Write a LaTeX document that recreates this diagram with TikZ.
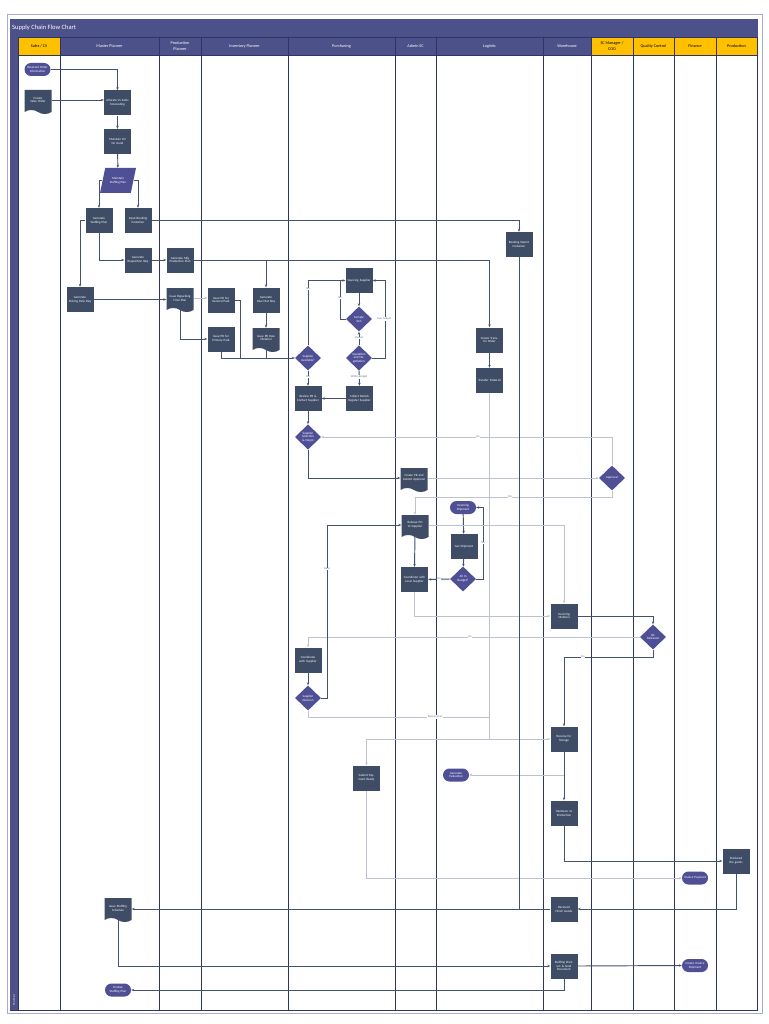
\documentclass[tikz,border=0pt]{standalone}
\usepackage{fontspec}
\setmainfont{Carlito}
\usetikzlibrary{shapes.geometric,shapes.misc,shapes.symbols,arrows.meta}
\definecolor{titlec}{HTML}{4D5189}
\definecolor{boxc}{HTML}{3E4C66}
\definecolor{purp}{HTML}{4E4F94}
\definecolor{yel}{HTML}{FFC000}
\definecolor{lanec}{HTML}{2F3562}
\definecolor{connc}{HTML}{44526B}
\definecolor{lightc}{HTML}{BCC3CE}
\definecolor{framec}{HTML}{A9ABD0}
\definecolor{lblc}{HTML}{6A7283}
\begin{document}
\begin{tikzpicture}[x=1pt,y=-1pt,
  txt/.style={text=white, font=\fontsize{3.2}{3.8}\selectfont, align=center},
  box/.style={txt, rectangle, fill=boxc, minimum width=27pt, minimum height=25pt, inner sep=0.5pt, text width=24pt},
  doc/.style={txt, tape, tape bend top=none, tape bend bottom=out and in, tape bend height=4pt, fill=boxc, minimum width=27pt, minimum height=24pt, inner sep=0.5pt, text width=24pt},
  term/.style={txt, rounded rectangle, fill=purp, minimum width=27pt, minimum height=13pt, inner sep=0.5pt, text width=22pt},
  dia/.style={txt, diamond, aspect=1, fill=purp, minimum width=26pt, minimum height=25pt, inner sep=0pt, text width=15pt},
  para/.style={txt, trapezium, trapezium left angle=65, trapezium right angle=115, trapezium stretches=true, fill=purp, minimum width=36pt, minimum height=25pt, inner sep=0.5pt},
  conn/.style={draw=connc, line width=0.95pt, -{Stealth[length=3pt,width=2.4pt]}},
  connl/.style={draw=lightc, line width=0.95pt, -{Stealth[length=3pt,width=2.4pt]}},
  plain/.style={draw=connc, line width=0.95pt},
  plainl/.style={draw=lightc, line width=0.95pt},
  lbl/.style={fill=white, inner sep=0.4pt, text=lblc, font=\fontsize{2.8}{3}\selectfont},
  hdr/.style={rectangle, inner sep=0pt, minimum height=18pt, align=center, font=\fontsize{4.2}{5.4}\selectfont},
  lane/.style={draw=lanec, line width=0.9pt}
]
\useasboundingbox (0,0) rectangle (768,1024);
\fill[white] (0,0) rectangle (768,1024);
% frame
\draw[framec, line width=1pt] (7,15) rectangle (762,1013);
\fill[titlec] (10,19) rectangle (758,37);
\node[anchor=west, text=white, font=\fontsize{6.5}{7}\selectfont, inner sep=0pt] (title) at (12,28) {Supply Chain Flow Chart};
\fill[titlec] (10,37) rectangle (18,1010);
\node[rotate=90, anchor=west, text=white, font=\fontsize{2.5}{3}\selectfont, inner sep=0pt] (striptxt) at (14,1006) {Flow Chart};
% header cells
\foreach \a/\b/\t/\c/\tc [count=\i] in {
  18/60/{Sales / CS}/yel/black,
  60/159/{Master Planner}/titlec/white,
  159/201/{Production\\Planner}/titlec/white,
  201/288/{Inventory Planner}/titlec/white,
  288/395/{Purchasing}/titlec/white,
  395/436/{Admin SC}/titlec/white,
  436/543/{Logistic}/titlec/white,
  543/591/{Warehouse}/titlec/white,
  591/633/{SC Manager /\\COO}/yel/black,
  633/674/{Quality Control}/yel/black,
  674/716/{Finance}/yel/black,
  716/757/{Production}/yel/black}{
  \node[hdr, fill=\c, text=\tc, minimum width=\b pt-\a pt] (h\i) at ({(\a+\b)/2},46) {\t};
}
\foreach \x in {18,60,159,201,288,395,436,543,591,633,674,716,757}
  \draw[lane] (\x,37) -- (\x,1010);
\draw[lane] (18,37) -- (757,37);
\draw[lane] (18,55) -- (757,55);
\draw[lane] (10,1010) -- (758,1010);

% ---------- nodes ----------
\node[term] (t1) at (37.5,69.5) {Received Order Information};
\node[doc] (d1) at (38,100) {Create Sales Order};
\node[box] (alloc) at (117.5,103) {Allocate Vs Sales Forecasting};
\node[box] (maint) at (117.5,141.5) {Maintain SO On Hand};
\node[para] (plan) at (118,180.5) {Maintain\\Stuffing Plan};
\node[box] (gsp) at (99,220.5) {Generate Stuffing Plan};
\node[box] (ibc) at (138,220.5) {Input Booking Container};
\node[box] (grr) at (138,260) {Generate Requisition Req};
\node[box] (gmp) at (180,260) {Generate Mfg Production Plan};
\node[box] (gpp) at (80,299.5) {Generate Picking Pack Req};
\node[doc] (irp) at (180,298) {Issue Repacking Final Plan};
\node[box] (gen) at (221,300) {Issue PR for General Pack};
\node[box] (prim) at (221,339) {Issue PR for Primary Pack};
\node[box] (raw) at (266,300) {Generate Raw Mat Req};
\node[doc] (prraw) at (266,338) {Issue PR Raw Material};
\node[box] (src) at (359,280.5) {Sourcing Supplier};
\node[dia] (st) at (359,319) {Sample Test};
\node[dia] (quo) at (359,358) {Quotation and Negotiation};
\node[dia] (sa) at (308,358) {Supplier Available?};
\node[box] (rev) at (308,398.5) {Review PR \& Contact Supplier};
\node[box] (col) at (359.5,398.5) {Collect Details Register Supplier};
\node[dia] (sel) at (308,437) {Supplier Selection \& Negot};
\node[doc] (cpr) at (414,478) {Create PR and Submit Approval};
\node[dia] (app) at (612,478) {Approval};
\node[box] (bec) at (519,244.5) {Booking Export Container};
\node[box] (cto) at (489.5,340) {Create Transfer Order};
\node[box] (tm) at (489.5,380.5) {Transfer Material};
\node[term] (is) at (463,507.5) {Incoming Shipment};
\node[doc] (rpo) at (415,525) {Release PO to Supplier};
\node[box] (gs) at (464,546.5) {Get Shipment};
\node[dia] (ab) at (463,579) {All In Budget?};
\node[box] (cls) at (414.5,579.5) {Coordinate with Local Supplier};
\node[box] (im) at (564,616) {Incoming Material};
\node[dia] (qc) at (653,637) {QC Released};
\node[box] (cws) at (308,660) {Coordinate with Supplier};
\node[dia] (sd) at (308,698) {Supplier Decision};
\node[box] (rs) at (564,739) {Receive for Storage};
\node[box] (spr) at (366.5,778) {Submit Payment Ready};
\node[term] (ge) at (456,775) {Generate Evaluation};
\node[box] (hp) at (564,813) {Handover to Production};
\node[box] (pg) at (736,861) {Produced the goods};
\node[term] (ip) at (695,878) {Invoice Payment};
\node[doc] (iss) at (118,908) {Issue Stuffing Schedule};
\node[box] (rfg) at (564,909) {Received Finish Goods};
\node[box] (spd) at (564,966) {Stuffing Product \& Send Document};
\node[term] (cis) at (695,965.5) {Create Invoice Shipment};
\node[term] (fsp) at (118,990) {Finalize Stuffing Plan};

\coordinate (jg) at (240,358);
\coordinate (jst) at (340,280.5);
\coordinate (jpc) at (489.5,717);

% ---------- connectors ----------
\draw[conn] (t1.east) -| (alloc.north);
\draw[conn] (d1.east) -- (d1.east -| alloc.west);
\draw[conn] (alloc) -- (maint);
\draw[conn] (maint) -- (plan);
\draw[conn] (plan.west) -| (gsp.north);
\draw[conn] (plan.east) -| (ibc.north);
\draw[conn] (gsp.south) |- (grr.west);
\draw[conn] (grr) -- (gmp);
\draw[conn] (gsp.west) -| (gpp.north);
\draw[conn] (ibc.east) -| (bec.north);
\draw[conn] (gmp.east) -| (cto.north);
\draw[conn] (raw.north |- gmp.east) -- (raw.north);
\draw[conn] (gpp.east) -- (gpp.east -| irp.west);
\draw[connl] (irp.east) -- (irp.east -| gen.west);
\draw[conn] (irp.south) |- (prim.west);
\draw[plain] (gen.east) -| (jg);
\draw[conn] (prim.south) |- (sa.west);
\draw[plain] (prraw.south) -- (prraw.south |- sa.west);
\draw[conn] (raw) -- (prraw);
\draw[conn] (sa.north) |- (src.west);
\draw[conn] (src) -- (st);
\draw[plain] (st.west) -| (jst);
\draw[conn] (quo.north) -- (st.south);
\draw[conn] (quo.east) -- ++(13,0) |- (src.east);
\draw[conn] (quo.south) -- (col.north);
\draw[conn] (col.west) -- (rev.east);
\draw[conn] (sa.south) -- (rev.north);
\draw[conn] (rev) -- (sel);
\draw[conn] (sel.south) |- (cpr.west);
\draw[connl] (cpr.east) -- (app.west);
\draw[connl] (app.north) |- (sel.east);
\draw[connl] (app.south) -- ++(0,7) -| (rpo.north);
\draw[conn] (is) -- (gs);
\draw[conn] (gs) -- (ab);
\draw[conn] (ab.east) -- ++(7,0) |- (is.east);
\draw[conn] (ab.west) -- (cls.east);
\draw[conn] (rpo.south) -- (cls.north);
\draw[connl] (rpo.east) -| (im.north);
\draw[connl] (cls.south) |- (im.west);
\draw[conn] (im.east) -| (qc.north);
\draw[connl] (qc.west) -| (cws.north);
\draw[conn] (qc.south) -- ++(0,8) -| (rs.north);
\draw[conn] (cws) -- (sd);
\draw[conn] (sd.east) -- ++(6,0) |- (rpo.west);
\draw[plainl] (sd.south) |- (jpc);
\draw[connl] (tm.south) |- (rs.west);
\draw[connl] (tm.south |- rs.west) -| (spr.north);
\draw[conn] (rs) -- (hp);
\draw[connl] (rs.south |- ge.east) -- (ge.east);
\draw[conn] (hp.south) |- (pg.west);
\draw[connl] (spr.south) |- (ip.west);
\draw[conn] (pg.south) |- (rfg.east);
\draw[conn] (rfg.west) -- (rfg.west -| iss.east);
\draw[plain] (bec.south) -- (bec.south |- rfg.west);
\draw[conn] (iss.south) |- (spd.west);
\draw[conn] (spd.east) -- (cis.west);
\draw[conn] (spd.south) |- (fsp.east);
\draw[conn] (cto) -- (tm);

% ---------- labels ----------
\node[lbl] (l1) at (308,289) {No};
\node[lbl] (l2) at (340,298) {No};
\node[lbl] (l3) at (359,338) {Passed};
\node[lbl] (l4) at (384,319) {Over budget};
\node[lbl] (l5) at (359,377) {Within Budget};
\node[lbl] (l6) at (308,377) {Yes};
\node[lbl] (l7) at (478,437) {No};
\node[lbl] (l8) at (510,497) {Yes};
\node[lbl] (l9) at (483,543) {No};
\node[lbl] (l10) at (439,579) {Yes};
\node[lbl] (l11) at (470,637) {No};
\node[lbl] (l12) at (583,657) {Yes};
\node[lbl] (l13) at (327,569) {Solve};
\node[lbl] (l14) at (435,717) {Payment Cut};
\end{tikzpicture}
\end{document}
